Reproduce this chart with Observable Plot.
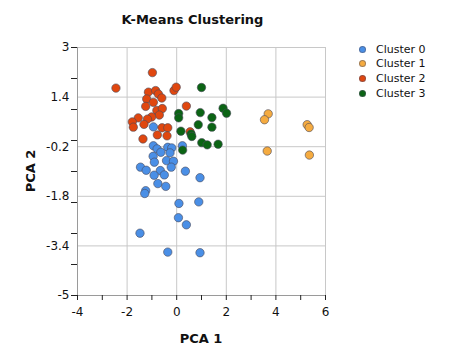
<!DOCTYPE html>
<html>
<head>
<meta charset="utf-8">
<script src="https://cdn.jsdelivr.net/npm/d3@7"></script>
<script src="https://cdn.jsdelivr.net/npm/@observablehq/plot@0.6"></script>
<style>
  html, body { margin: 0; padding: 0; background: #fff; }
  #wrap { position: relative; width: 451px; height: 363px; font-family: "DejaVu Sans", Verdana, sans-serif; }
  #title { position: absolute; left: 0; width: 385px; top: 12px; text-align: center; font-weight: bold; font-size: 13px; color: #111; }
  #xlabel { position: absolute; left: 77px; width: 248px; top: 331px; text-align: center; font-weight: bold; font-size: 13px; color: #111; }
  #ylabel { position: absolute; left: 30px; top: 171px; transform: translate(-50%, -50%) rotate(-90deg); font-weight: bold; font-size: 13px; color: #111; white-space: nowrap; }
  #legend { position: absolute; left: 359px; top: 42px; font-size: 11px; color: #111; }
  .item { height: 14.6px; display: flex; align-items: center; }
  .dot { width: 7px; height: 7px; border-radius: 50%; margin-right: 10px; box-sizing: border-box; border: 1px solid rgba(80,80,100,0.5); }
  svg { position: absolute; left: 0; top: 0; }
</style>
</head>
<body>
<div id="wrap">
  <div id="chart"></div>
  <div id="title">K-Means Clustering</div>
  <div id="xlabel">PCA 1</div>
  <div id="ylabel">PCA 2</div>
  <div id="legend"></div>
</div>
<script>
// Cluster names and colours
const clusters = ["Cluster 0", "Cluster 1", "Cluster 2", "Cluster 3"];
const colors = ["#4a8fe6", "#f5ab40", "#e0470f", "#0b6414"];

// Cluster 0
const c0x = [-0.94, -0.94, -0.79, -0.36, -0.20, 0.23, -0.64, -0.27, -0.95, -0.41, -0.13, -0.90, -1.46, -1.23, -0.22, -0.66, -0.50, -0.91, -0.76, -0.44, 0.35, 0.94, -1.25, -1.29, 0.89, 0.09, 0.07, 0.39, -1.48, -0.36, 0.94];
const c0y = [0.44, -0.17, -0.27, -0.22, -0.24, -0.17, -0.38, -0.40, -0.51, -0.65, -0.67, -0.70, -0.86, -0.96, -0.86, -0.97, -1.11, -1.12, -1.39, -1.48, -0.99, -1.20, -1.62, -1.71, -1.98, -2.03, -2.49, -2.72, -2.99, -3.60, -3.62];
// Cluster 1
const c1x = [3.69, 3.54, 5.26, 5.34, 3.65, 5.35];
const c1y = [0.86, 0.67, 0.51, 0.42, -0.34, -0.47];
// Cluster 2
const c2x = [-2.45, -0.98, -1.14, -0.85, -0.74, -0.60, -1.21, -0.94, -1.25, -0.80, -0.58, -0.70, -1.01, -1.18, -1.55, -1.79, -1.75, -1.32, -0.59, -0.36, -0.78, -0.39, -1.36, -0.11, -0.02, 0.39, 0.54];
const c2y = [1.69, 2.19, 1.56, 1.61, 1.50, 1.37, 1.34, 1.23, 1.10, 0.97, 1.03, 0.82, 0.76, 0.69, 0.73, 0.60, 0.43, 0.52, 0.41, 0.41, 0.18, 0.15, 0.05, 1.61, 1.72, 1.11, 0.28];
// Cluster 3
const c3x = [1.00, 1.87, 2.01, 0.95, 0.08, 0.08, 1.42, 0.87, 1.42, 0.17, 0.58, 0.61, 1.01, 1.23, 1.67, 0.24];
const c3y = [1.71, 1.04, 0.88, 0.90, 0.87, 0.73, 0.74, 0.51, 0.43, 0.30, 0.21, 0.13, -0.07, -0.14, -0.12, -0.31];

// Axis ticks
const xTickValues = [-4, -3, -2, -1, 0, 1, 2, 3, 4, 5, 6];
const xLabelValues = [-4, -2, 0, 2, 4, 6];
const yTickValues = [-5, -4, -3, -2, -1, 0, 1, 2, 3];
const yLabelValues = [3, 1.4, -0.2, -1.8, -3.4, -5];
const yLabelTexts = ["3", "1.4", "-0.2", "-1.8", "-3.4", "-5"];

const seriesX = [c0x, c1x, c2x, c3x];
const seriesY = [c0y, c1y, c2y, c3y];
const points = [];
seriesX.forEach((xs, k) => xs.forEach((x, i) => points.push({x, y: seriesY[k][i], cluster: clusters[k]})));

const chart = Plot.plot({
  width: 451,
  height: 363,
  marginLeft: 77,
  marginRight: 126,
  marginTop: 47,
  marginBottom: 68,
  style: {fontFamily: "DejaVu Sans, Verdana, sans-serif", fontSize: "12px", color: "#111", background: "transparent"},
  x: {domain: [-4, 6]},
  y: {domain: [-5, 3]},
  color: {domain: clusters, range: colors},
  marks: [
    Plot.ruleX(xLabelValues.filter(v => v > -4), {stroke: "#c8c8c8", strokeWidth: 1}),
    Plot.ruleY(yLabelValues.filter(v => v > -5), {stroke: "#c8c8c8", strokeWidth: 1}),
    Plot.ruleX([-4], {stroke: "#9a9a9a"}),
    Plot.ruleY([-5], {stroke: "#9a9a9a"}),
    Plot.axisX({ticks: xTickValues, tickSize: 5, tickPadding: 7, stroke: "#222", tickFormat: d => xLabelValues.includes(d) ? String(d) : "", label: null}),
    Plot.axisY({ticks: yTickValues, tickSize: 6, tickFormat: () => "", stroke: "#222", label: null}),
    Plot.axisY({ticks: yLabelValues, tickSize: 0, tickPadding: 8, tickFormat: d => yLabelTexts[yLabelValues.indexOf(d)], label: null}),
    Plot.dot(points, {x: "x", y: "y", fill: "cluster", r: 4.2, stroke: "#4a4a5a", strokeOpacity: 0.6, strokeWidth: 1})
  ]
});
document.getElementById("chart").appendChild(chart);

const legend = document.getElementById("legend");
clusters.forEach((c, i) => {
  const item = document.createElement("div");
  item.className = "item";
  const dot = document.createElement("span");
  dot.className = "dot";
  dot.style.background = colors[i];
  const label = document.createElement("span");
  label.textContent = c;
  item.appendChild(dot);
  item.appendChild(label);
  legend.appendChild(item);
});
</script>
</body>
</html>
